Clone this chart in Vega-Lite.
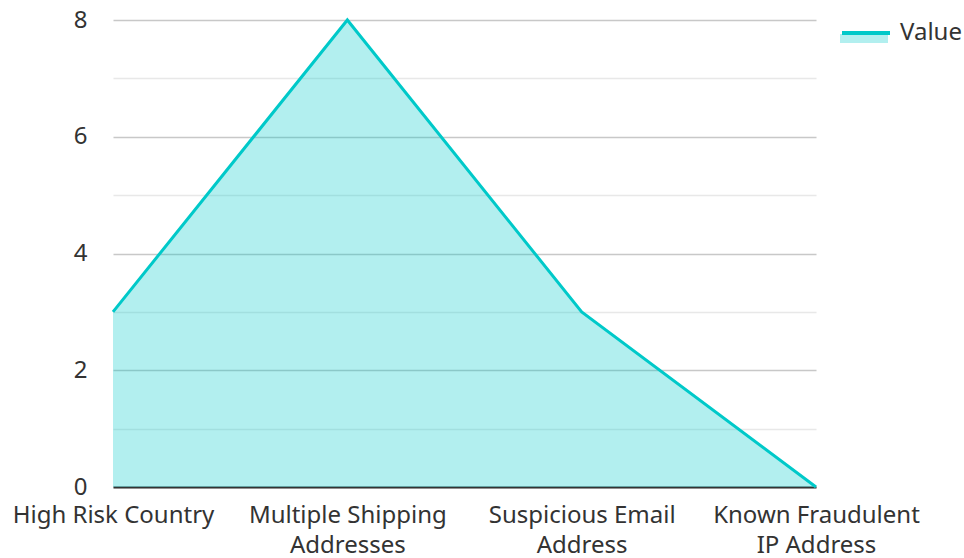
{
  "$schema": "https://vega.github.io/schema/vega-lite/v6.json",
  "width": 703,
  "height": 467,
  "autosize": {"type": "none"},
  "padding": {"left": 113, "top": 20, "right": 148, "bottom": 71},
  "background": "white",
  "config": {
    "view": {"stroke": null},
    "font": "Noto Sans",
    "legend": {"labelFont": "Noto Sans", "labelFontSize": 24, "labelColor": "#333333", "labelLimit": 0}
  },
  "data": {
    "values": [
      {"category": "High Risk Country", "value": 3},
      {"category": "Multiple Shipping Addresses", "value": 8},
      {"category": "Suspicious Email Address", "value": 3},
      {"category": "Known Fraudulent IP Address", "value": 0}
    ]
  },
  "encoding": {
    "x": {
      "field": "category",
      "type": "nominal",
      "sort": null,
      "scale": {"type": "point", "padding": 0},
      "axis": {
        "title": null,
        "labelAngle": 0,
        "labelFont": "Noto Sans",
        "labelFontSize": 24,
        "labelColor": "#333333",
        "labelLineHeight": 30,
        "labelPadding": 16,
        "labelBaseline": "top",
        "labelLimit": 0,
        "labelOverlap": false,
        "ticks": false,
        "domainColor": "#333333",
        "domainWidth": 2,
        "grid": false,
        "labelExpr": "datum.label == 'Multiple Shipping Addresses' ? ['Multiple Shipping', 'Addresses'] : datum.label == 'Suspicious Email Address' ? ['Suspicious Email', 'Address'] : datum.label == 'Known Fraudulent IP Address' ? ['Known Fraudulent', 'IP Address'] : datum.label"
      }
    },
    "y": {
      "field": "value",
      "type": "quantitative",
      "scale": {"domain": [0, 8], "nice": false},
      "axis": {
        "title": null,
        "values": [0, 1, 2, 3, 4, 5, 6, 7, 8],
        "labelExpr": "datum.value % 2 === 0 ? datum.label : ''",
        "labelFont": "Noto Sans",
        "labelFontSize": 24,
        "labelColor": "#333333",
        "labelPadding": 26,
        "labelOverlap": false,
        "ticks": false,
        "domain": false,
        "gridColor": {"condition": {"test": "datum.value % 2 === 0", "value": "#c8c8c8"}, "value": "#e8e8e8"},
        "gridWidth": 1.5
      }
    }
  },
  "layer": [
    {
      "mark": {"type": "area", "fillOpacity": 0.3},
      "encoding": {
        "fill": {
          "datum": "Value ",
          "scale": {"range": ["#00C9C9"]},
          "legend": {
            "title": null,
            "orient": "none",
            "legendX": 727,
            "legendY": -13,
            "symbolType": "M-1,0.12 H1 V0.5 H-1 Z",
            "symbolSize": 2304,
            "symbolOpacity": 0.3,
            "symbolStrokeWidth": 0,
            "labelOffset": 8,
            "labelOpacity": 0
          }
        }
      }
    },
    {
      "mark": {"type": "line", "strokeWidth": 3},
      "encoding": {
        "stroke": {
          "datum": "Value",
          "scale": {"range": ["#00C9C9"]},
          "legend": {
            "title": null,
            "orient": "none",
            "legendX": 727,
            "legendY": -13,
            "symbolType": "M-1,0 H1",
            "symbolSize": 2304,
            "symbolStrokeWidth": 4,
            "labelOffset": 8
          }
        }
      }
    }
  ]
}
